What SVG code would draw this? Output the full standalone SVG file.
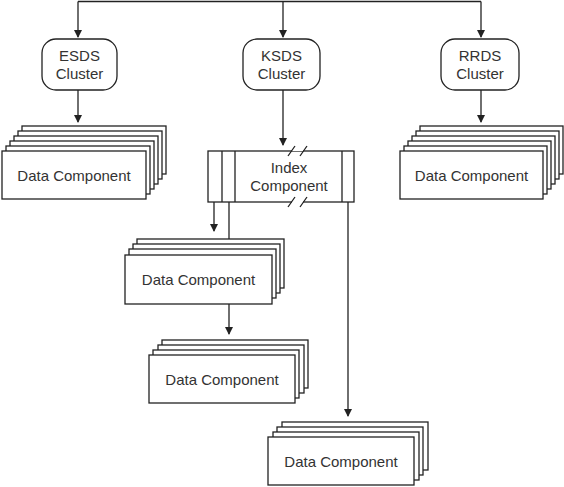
<svg xmlns="http://www.w3.org/2000/svg" width="564" height="487" viewBox="0 0 564 487">
<defs>
<style>
.ln{fill:none;stroke:#222;stroke-width:1.3}
.bx{fill:#fff;stroke:#222;stroke-width:1.3}
.t{font-family:"Liberation Sans",Arial,sans-serif;font-size:15px;fill:#333;text-anchor:middle}
</style>
<marker id="ah" markerWidth="8" markerHeight="8" refX="7" refY="4" orient="auto" markerUnits="userSpaceOnUse">
<path d="M0,0 L8,4 L0,8 Z" fill="#222"/>
</marker>
</defs>
<g id="connectors">
<path class="ln" d="M78,1.5 H481"/>
<path class="ln" d="M78,1.5 V37" marker-end="url(#ah)"/>
<path class="ln" d="M283,1.5 V37" marker-end="url(#ah)"/>
<path class="ln" d="M481,1.5 V37" marker-end="url(#ah)"/>
<path class="ln" d="M78,90 V122" marker-end="url(#ah)"/>
<path class="ln" d="M481,90 V122" marker-end="url(#ah)"/>
<path class="ln" d="M283,90 V145" marker-end="url(#ah)"/>
<path class="ln" d="M214,202 V231" marker-end="url(#ah)"/>
<path class="ln" d="M229,202 V239"/>
<path class="ln" d="M229,304 V334" marker-end="url(#ah)"/>
<path class="ln" d="M348,202 V416" marker-end="url(#ah)"/>
</g>
<g id="esds">
<rect class="bx" x="42" y="39" width="75" height="51" rx="14"/>
<text class="t" x="79.5" y="61">ESDS</text>
<text class="t" x="79.5" y="79">Cluster</text>
</g>
<g id="ksds">
<rect class="bx" x="243" y="39" width="77" height="51" rx="14"/>
<text class="t" x="281.5" y="61">KSDS</text>
<text class="t" x="281.5" y="79">Cluster</text>
</g>
<g id="rrds">
<rect class="bx" x="441" y="39" width="78" height="51" rx="14"/>
<text class="t" x="480" y="61">RRDS</text>
<text class="t" x="480" y="79">Cluster</text>
</g>
<g id="esds-data">
<rect class="bx" x="22" y="126" width="144" height="48"/>
<rect class="bx" x="18" y="131" width="144" height="48"/>
<rect class="bx" x="14" y="136" width="144" height="48"/>
<rect class="bx" x="10" y="141" width="144" height="48"/>
<rect class="bx" x="6" y="146" width="144" height="48"/>
<rect class="bx" x="2" y="151" width="144" height="48"/>
<text class="t" x="74" y="180.5">Data Component</text>
</g>
<g id="rrds-data">
<rect class="bx" x="420" y="126" width="143" height="48"/>
<rect class="bx" x="416" y="131" width="143" height="48"/>
<rect class="bx" x="412" y="136" width="143" height="48"/>
<rect class="bx" x="408" y="141" width="143" height="48"/>
<rect class="bx" x="404" y="146" width="143" height="48"/>
<rect class="bx" x="400" y="151" width="143" height="48"/>
<text class="t" x="471.5" y="180.5">Data Component</text>
</g>
<g id="index">
<rect class="bx" x="208" y="151" width="146" height="51"/>
<path class="ln" d="M222,151 V202 M235,151 V202 M342,151 V202"/>
<path d="M292,149 H303 M292,202 H303" stroke="#fff" stroke-width="4"/>
<path class="ln" d="M288,156 L295,146 M300,156 L307,146 M288,207 L295,197 M300,207 L307,197"/>
<text class="t" x="289" y="173">Index</text>
<text class="t" x="289" y="191">Component</text>
</g>
<g id="data1">
<rect class="bx" x="137" y="239" width="147" height="49"/>
<rect class="bx" x="133" y="244" width="147" height="49"/>
<rect class="bx" x="129" y="249" width="147" height="49"/>
<rect class="bx" x="125" y="255" width="147" height="49"/>
<text class="t" x="198.5" y="285">Data Component</text>
</g>
<g id="data2">
<rect class="bx" x="162" y="340" width="146" height="48"/>
<rect class="bx" x="158" y="345" width="146" height="48"/>
<rect class="bx" x="153" y="350" width="146" height="48"/>
<rect class="bx" x="149" y="355" width="146" height="48"/>
<text class="t" x="222" y="385">Data Component</text>
</g>
<g id="data3">
<rect class="bx" x="282" y="422" width="146" height="48"/>
<rect class="bx" x="277" y="427" width="146" height="48"/>
<rect class="bx" x="273" y="432" width="146" height="48"/>
<rect class="bx" x="268" y="437" width="146" height="48"/>
<text class="t" x="341" y="467">Data Component</text>
</g>
</svg>
